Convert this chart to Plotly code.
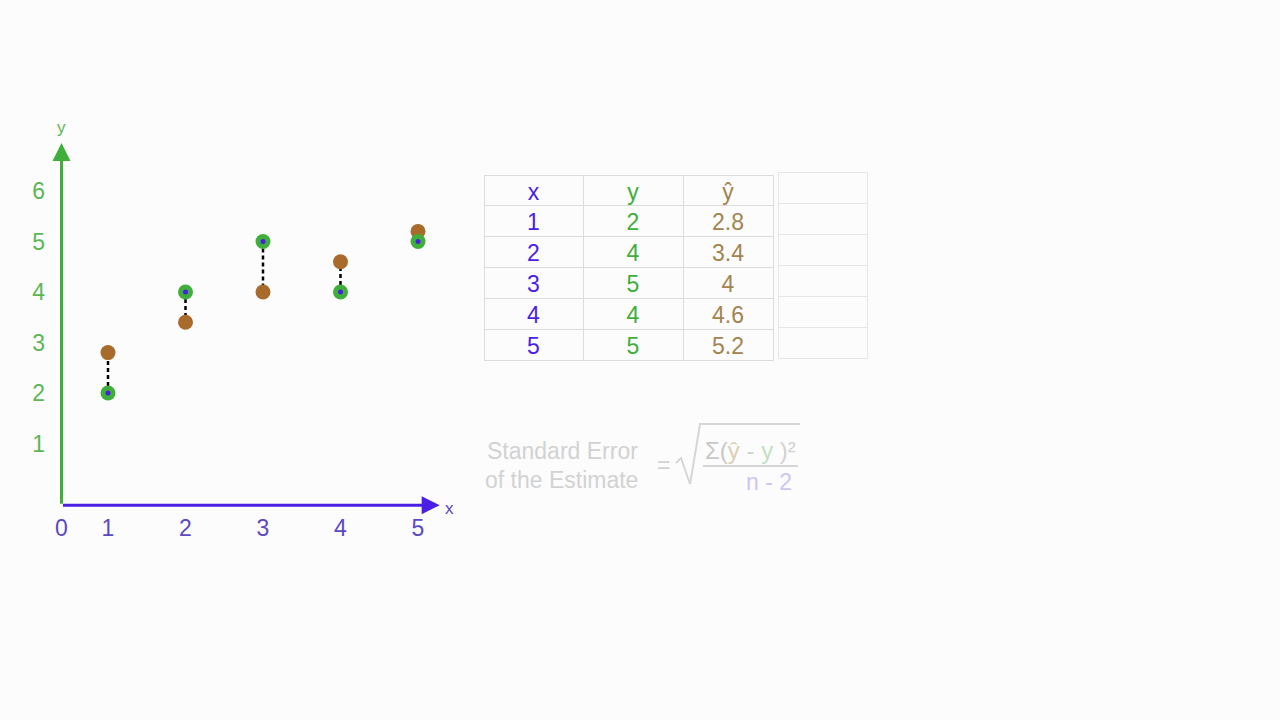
import plotly.graph_objects as go

# Data
x_vals = [1, 2, 3, 4, 5]
y_vals = [2, 4, 5, 4, 5]
y_hat = [2.8, 3.4, 4, 4.6, 5.2]
y_hat_text = ["2.8", "3.4", "4", "4.6", "5.2"]
x_tick_vals = [0.4, 1, 2, 3, 4, 5]
x_tick_text = ["0", "1", "2", "3", "4", "5"]
y_tick_vals = [1, 2, 3, 4, 5, 6]
table_header = ["x", "y", "ŷ"]

# Colours
BG = "#fcfcfc"
GREEN = "#3fae3a"
GREEN_TXT = "#5cb656"
BLUE = "#4b1ee6"
PURPLE_TXT = "#5a48c4"
BROWN = "#a86b2c"
TAN = "#a3844f"
FONT = "Liberation Sans"

ORIGIN_X = 0.4
ORIGIN_Y = -0.22

# page has an 8px body margin, so the figure is a bit smaller than the window
OFF = 8
W, H = 1280 - 2 * OFF, 720 - 2 * OFF


def px(x, y):
    # window pixel -> paper fraction
    return (x - OFF) / W, 1 - (y - OFF) / H


fig = go.Figure()

# dashed residual lines
res_x, res_y = [], []
for xv, yv, yh in zip(x_vals, y_vals, y_hat):
    res_x += [xv, xv, None]
    res_y += [yv, yh, None]
fig.add_trace(go.Scatter(x=res_x, y=res_y, mode="lines",
                         line=dict(color="black", width=2.5, dash="4px,3px"),
                         hoverinfo="skip"))

# predicted points
fig.add_trace(go.Scatter(x=x_vals, y=y_hat, mode="markers",
                         marker=dict(color=BROWN, size=15)))
# actual points
fig.add_trace(go.Scatter(x=x_vals, y=y_vals, mode="markers",
                         marker=dict(color=GREEN, size=15)))
fig.add_trace(go.Scatter(x=x_vals, y=y_vals, mode="markers",
                         marker=dict(color=BLUE, size=5)))

# table
t_left, t_top = px(484, 175)
t_right, t_bot = px(773, 380)
fig.add_trace(go.Table(
    domain=dict(x=[t_left, t_right], y=[t_bot, t_top]),
    columnwidth=[99, 100, 90],
    header=dict(values=table_header, height=30,
                font=dict(family=FONT, size=23, color=[BLUE, GREEN, TAN]),
                fill_color=BG, line_color="#dcdcdc", align="center"),
    cells=dict(values=[x_vals, y_vals, y_hat_text], height=31,
               font=dict(family=FONT, size=23, color=[BLUE, GREEN, TAN]),
               fill_color=BG, line_color="#dcdcdc", align="center"),
))
# empty extra column
e_left, e_top = px(778, 172)
e_right, e_bot = px(868, 380)
fig.add_trace(go.Table(
    domain=dict(x=[e_left, e_right], y=[e_bot, e_top]),
    header=dict(values=[""], height=31, fill_color=BG, line_color="#e6e6e6"),
    cells=dict(values=[[""] * len(x_vals)], height=31,
               fill_color=BG, line_color="#e6e6e6"),
))

annotations = [
    # axes arrows
    dict(x=5.28, y=ORIGIN_Y, ax=ORIGIN_X, ay=ORIGIN_Y, xref="x", yref="y",
         axref="x", ayref="y", showarrow=True, arrowhead=2, arrowsize=1.2,
         arrowwidth=3, arrowcolor=BLUE, text=""),
    dict(x=ORIGIN_X, y=6.95, ax=ORIGIN_X, ay=ORIGIN_Y, xref="x", yref="y",
         axref="x", ayref="y", showarrow=True, arrowhead=2, arrowsize=1.2,
         arrowwidth=3, arrowcolor=GREEN, text=""),
    dict(x=5.41, y=-0.28, xref="x", yref="y", text="x", showarrow=False,
         font=dict(family=FONT, size=17, color=PURPLE_TXT)),
    dict(x=ORIGIN_X, y=7.25, xref="x", yref="y", text="y", showarrow=False,
         font=dict(family=FONT, size=17, color=GREEN_TXT)),
]


def note(x, y, text, color=None, size=23, xanchor="center"):
    fx, fy = px(x, y)
    annotations.append(dict(x=fx, y=fy, xref="paper", yref="paper",
                            xanchor=xanchor, yanchor="middle",
                            text=text, showarrow=False,
                            font=dict(family=FONT, size=size, color=color)))


# formula
note(640, 451, "Standard Error", "#d2d2d2", xanchor="right")
note(640, 480, "of the Estimate", "#d2d2d2", xanchor="right")
note(663, 465, "=", "#d2d2d2")
note(750, 450,
     "<span style='color:#c8c8c8'>Σ(</span><span style='color:#dccfb4'>ŷ</span>"
     "<span style='color:#d2d2d2'> - </span><span style='color:#c4e0c0'>y</span>"
     "<span style='color:#d2d2d2'> )²</span>", size=24)
note(769, 482, "n - 2", "#cdc6f0")

p = [px(676, 463), px(681, 458), px(690, 484), px(700, 424), px(800, 424)]
path = "M " + " L ".join(f"{a:.4f} {b:.4f}" for a, b in p)
a0, b0 = px(703, 466)
a1, _ = px(798, 466)
shapes = [
    dict(type="path", xref="paper", yref="paper", path=path,
         line=dict(color="#d6d6d6", width=2)),
    dict(type="line", xref="paper", yref="paper", x0=a0, x1=a1, y0=b0, y1=b0,
         line=dict(color="#d6d6d6", width=2)),
]

# plot area: x 0.2..6 -> 46..495.5 px, y -0.36..7.4 -> 512.2..120.3 px
xd0, yd0 = px(46, 512.2)
xd1, yd1 = px(495.5, 120.3)

fig.update_layout(
    width=W, height=H,
    margin=dict(l=0, r=0, t=0, b=0),
    paper_bgcolor=BG, plot_bgcolor=BG,
    showlegend=False,
    annotations=annotations,
    shapes=shapes,
    xaxis=dict(domain=[xd0, xd1], range=[0.2, 6.0],
               showgrid=False, zeroline=False, showline=False,
               tickvals=x_tick_vals, ticktext=x_tick_text, ticks="",
               tickfont=dict(family=FONT, size=23, color=PURPLE_TXT)),
    yaxis=dict(domain=[yd0, yd1], range=[-0.36, 7.4],
               showgrid=False, zeroline=False, showline=False,
               tickvals=y_tick_vals, ticks="",
               tickfont=dict(family=FONT, size=23, color=GREEN_TXT)),
)

fig.write_html("out.html", post_script="document.body.style.background='#fcfcfc';")
